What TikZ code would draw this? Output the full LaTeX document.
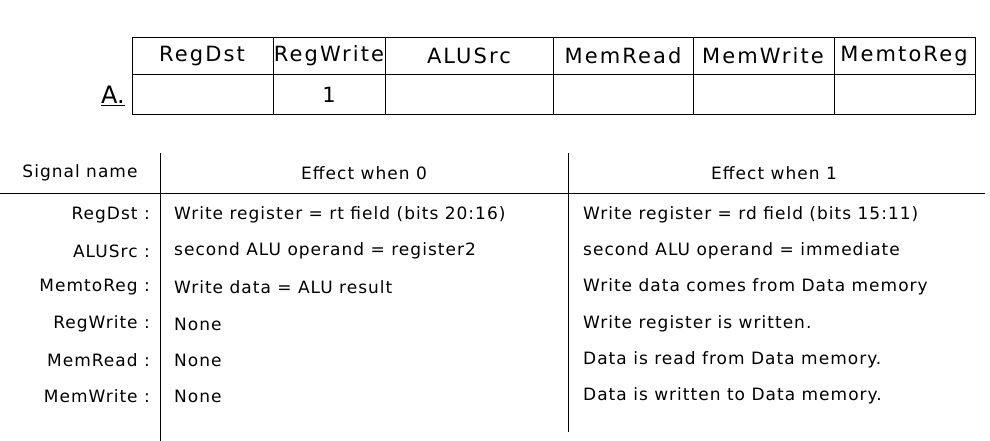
\documentclass[tikz,border=0pt]{standalone}
\usepackage{fontspec}
\setmainfont{DejaVu Sans}
\newfontfamily\headfont[LetterSpace=10]{DejaVu Sans}
\newfontfamily\cellfont[LetterSpace=6]{DejaVu Sans}
\usetikzlibrary{positioning}
\tikzset{
    head/.style={font=\headfont\fontsize{21}{24}\selectfont, inner sep=0pt},
    cell/.style={font=\cellfont\fontsize{17}{20}\selectfont, inner sep=0pt},
    rule/.style={line width=0.9pt, black}
}
\begin{document}
\begin{tikzpicture}[x=1pt, y=-1pt]
    \useasboundingbox (0,0) rectangle (990,440);
    % upper table
    \draw[rule] (132,37) rectangle (975,114);
    \draw[rule] (132,74) -- (975,74);
    \foreach \xc in {273,385,553,693,834}
        \draw[rule] (\xc,37) -- (\xc,114);
    \node[head] (regdst) at (202,56) {RegDst};
    \node[head] (regwrite) at (329,56) {RegWrite};
    \node[head] (alusrc) at (469,56) {ALUSrc};
    \node[head] (memread) at (623,56) {MemRead};
    \node[head] (memwrite) at (763,56) {MemWrite};
    \node[head] (memtoreg) at (904,56) {MemtoReg};
    \node[head] (one) at (329,95) {1};
    \node[head, font=\fontsize{24}{26}\selectfont] (label) at (113,96) {\underline{A.}};
    % lower table
    \draw[rule] (0,193) -- (985,193);
    \draw[rule] (160,153) -- (160,460);
    \draw[rule] (568,153) -- (568,432);
    \node[cell] (hname) at (80,173) {Signal name};
    \node[cell] (hzero) at (364,173) {Effect when 0};
    \node[cell] (hone) at (774,173) {Effect when 1};
    \foreach \yc/\sig/\zero/\one [count=\i] in {
        215/RegDst/{Write register = rt field (bits 20:16)}/{Write register = rd field (bits 15:11)},
        251/ALUSrc/{second ALU operand = register2}/{second ALU operand = immediate},
        287/MemtoReg/{Write data = ALU result}/{Write data comes from Data memory},
        324/RegWrite/None/{Write register is written.},
        360/MemRead/None/{Data is read from Data memory.},
        396/MemWrite/None/{Data is written to Data memory.}} {
        \node[cell, anchor=east] (sig\i) at (150,\yc) {\sig\ :};
        \node[cell, anchor=west] (zero\i) at (174,\yc) {\zero};
        \node[cell, anchor=west] (one\i) at (583,\yc) {\one};
    }
\end{tikzpicture}
\end{document}
